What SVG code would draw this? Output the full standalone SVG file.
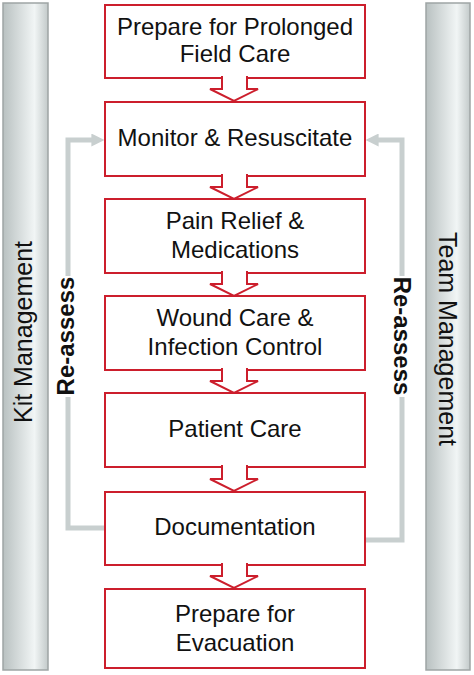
<svg xmlns="http://www.w3.org/2000/svg" width="474" height="675" viewBox="0 0 474 675">
<defs>
<linearGradient id="bar" x1="0" y1="0" x2="1" y2="0">
<stop offset="0" stop-color="#b9c1c1"/>
<stop offset="0.7" stop-color="#f1f5f5"/>
<stop offset="1" stop-color="#c3caca"/>
</linearGradient>
<marker id="gh" viewBox="0 0 10 10" refX="2" refY="5" markerWidth="2.6" markerHeight="2.6" orient="auto" markerUnits="strokeWidth">
<path d="M0,0 L10,5 L0,10 z" fill="#c8cfcf"/>
</marker>
</defs>
<style>
.bar{fill:url(#bar);stroke:#9ea5a5;stroke-width:1.5}
.box{fill:#fff;stroke:#cc1e2c;stroke-width:2}
.arr{fill:#fff;stroke:#cc1e2c;stroke-width:2;stroke-linejoin:miter}
.t{font-family:"Liberation Sans",Arial,sans-serif;font-size:24px;fill:#111;text-anchor:middle}
.side{font-family:"Liberation Sans",Arial,sans-serif;font-size:25px;fill:#111;text-anchor:middle}
.ra{font-family:"Liberation Sans",Arial,sans-serif;font-size:24px;font-weight:bold;fill:#111;text-anchor:middle}
.fb{fill:none;stroke:#c8cfcf;stroke-width:5}
</style>
<rect width="474" height="675" fill="#fff"/>
<g id="kit">
<rect class="bar" x="3" y="3" width="45" height="667"/>
<text class="side" transform="translate(32,332) rotate(-90)">Kit Management</text>
</g>
<g id="team">
<rect class="bar" x="426" y="3" width="44" height="667"/>
<text class="side" transform="translate(439,339) rotate(90)">Team Management</text>
</g>
<g id="connectors">
<path class="fb" d="M105,528 H68 V140 H94" marker-end="url(#gh)"/>
<path class="fb" d="M365,540 H402 V140 H376" marker-end="url(#gh)"/>
<rect x="55" y="276" width="22" height="121" fill="#fff"/>
<rect x="391" y="276" width="22" height="121" fill="#fff"/>
<text class="ra" transform="translate(74,336) rotate(-90)">Re-assess</text>
<text class="ra" transform="translate(394,336) rotate(90)">Re-assess</text>
</g>
<g id="n1"><rect class="box" x="105" y="5" width="260" height="73"/><text class="t" x="235" y="35">Prepare for Prolonged</text><text class="t" x="235" y="62">Field Care</text></g>
<g id="n2"><rect class="box" x="105" y="102" width="260" height="74"/><text class="t" x="235" y="146">Monitor &amp; Resuscitate</text></g>
<g id="n3"><rect class="box" x="105" y="199" width="260" height="74"/><text class="t" x="235" y="229">Pain Relief &amp;</text><text class="t" x="235" y="258">Medications</text></g>
<g id="n4"><rect class="box" x="105" y="296" width="260" height="74"/><text class="t" x="235" y="326">Wound Care &amp;</text><text class="t" x="235" y="355">Infection Control</text></g>
<g id="n5"><rect class="box" x="105" y="393" width="260" height="74"/><text class="t" x="235" y="437">Patient Care</text></g>
<g id="n6"><rect class="box" x="105" y="492" width="260" height="73"/><text class="t" x="235" y="535">Documentation</text></g>
<g id="n7"><rect class="box" x="105" y="589" width="260" height="79"/><text class="t" x="235" y="622">Prepare for</text><text class="t" x="235" y="651">Evacuation</text></g>
<g id="flow">
<path class="arr" d="M222,76 V89 H210 L234,101 L258,89 H247 V76"/>
<path class="arr" d="M222,174 V187 H210 L234,199 L258,187 H247 V174"/>
<path class="arr" d="M222,271 V284 H210 L234,296 L258,284 H247 V271"/>
<path class="arr" d="M222,368 V381 H210 L234,393 L258,381 H247 V368"/>
<path class="arr" d="M222,465 V479 H210 L234,491 L258,479 H247 V465"/>
<path class="arr" d="M222,563 V576 H210 L234,588 L258,576 H247 V563"/>
</g>
</svg>
